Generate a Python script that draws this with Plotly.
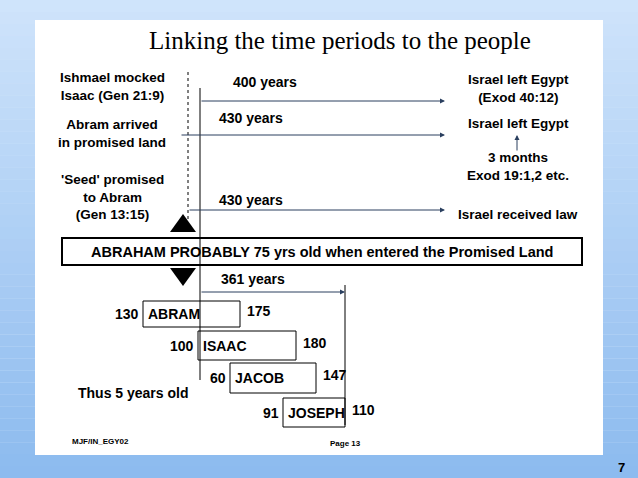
import plotly.graph_objects as go

# people on the timeline: name, age at which born (relative to father), age at death
people = ["ABRAM", "ISAAC", "JACOB", "JOSEPH"]
born_label = ["130", "100", "60", "91"]
death_label = ["175", "180", "147", "110"]

# schematic box placement on the slide (pixels)
box_x0 = [143, 198, 230, 283]
box_x1 = [240, 296, 316, 345]
box_y0 = [301, 331, 363, 398]
box_y1 = [327, 360, 393, 427]

left_notes = [("Ishmael mocked<br>Isaac (Gen 21:9)", 86), ("Abram arrived<br>in promised land", 133),
              ("'Seed' promised<br>to Abram<br>(Gen 13:15)", 197)]
right_notes = [("Israel left Egypt<br>(Exod 40:12)", 88), ("Israel left Egypt", 123),
               ("3 months<br>Exod 19:1,2 etc.", 166), ("Israel received law", 214)]
spans = ["400 years", "430 years", "430 years", "361 years"]


def mix(a, b, t):
    return "rgb(%d,%d,%d)" % tuple(int(a[k] + (b[k] - a[k]) * t) for k in range(3))


fig = go.Figure()
shapes = []
# slide background gradient
n = 40
for i in range(n):
    shapes.append(dict(type="rect", xref="paper", yref="paper", x0=0, x1=1, y0=1 - (i + 1) / n, y1=1 - i / n,
                       fillcolor=mix((207, 228, 251), (141, 187, 239), i / (n - 1)), line_width=0, layer="below"))
shapes.append(dict(type="rect", x0=35, x1=603, y0=20, y1=455, fillcolor="white", line_width=0, layer="below"))
ln = dict(color="black", width=1)
shapes += [dict(type="line", x0=188, x1=188, y0=72, y1=220, line=dict(color="black", width=1, dash="dot")),
           dict(type="line", x0=200, x1=200, y0=88, y1=380, line=ln),
           dict(type="line", x0=345, x1=345, y0=285, y1=425, line=ln),
           dict(type="rect", x0=62, x1=582, y0=238, y1=265, line=dict(color="black", width=2)),
           dict(type="path", path="M 170 232 L 196 232 L 183 214 Z", fillcolor="black", line_width=0),
           dict(type="path", path="M 170 268 L 196 268 L 183 286 Z", fillcolor="black", line_width=0)]
for i in range(len(people)):
    shapes.append(dict(type="rect", x0=box_x0[i], x1=box_x1[i], y0=box_y0[i], y1=box_y1[i], line=ln))

ann = [dict(x=340, y=40, text="Linking the time periods to the people", showarrow=False,
            font=dict(family="Liberation Serif", size=25, color="black")),
       dict(x=621, y=467, text="7", showarrow=False, font=dict(size=13, color="black")),
       dict(x=70, y=441, text="MJF/IN_EGY02", showarrow=False, xanchor="left", font=dict(size=8)),
       dict(x=345, y=443, text="Page 13", showarrow=False, font=dict(size=8)),
       dict(x=322, y=252, text="ABRAHAM PROBABLY 75 yrs old when entered the Promised Land",
            showarrow=False, font=dict(size=14.5)),
       dict(x=133, y=393, text="Thus 5 years old", showarrow=False, font=dict(size=14))]
for t, y in left_notes:
    ann.append(dict(x=112, y=y, text=t, showarrow=False, font=dict(size=13.5)))
for t, y in right_notes:
    ann.append(dict(x=518, y=y, text=t, showarrow=False, font=dict(size=13.5)))
for t, (x, y) in zip(spans, [(265, 82), (251, 118), (251, 200), (253, 279)]):
    ann.append(dict(x=x, y=y, text=t, showarrow=False, font=dict(size=14)))
# arrows
for x0, x1, y in [(200, 445, 101), (180, 445, 135), (188, 445, 210), (200, 345, 292)]:
    ann.append(dict(x=x1, y=y, ax=x0, ay=y, xref="x", yref="y", axref="x", ayref="y", text="",
                    showarrow=True, arrowhead=2, arrowsize=1, arrowwidth=1))
ann.append(dict(x=517, y=135, ax=517, ay=152, xref="x", yref="y", axref="x", ayref="y", text="",
                showarrow=True, arrowhead=2, arrowwidth=1))
for i, p in enumerate(people):
    yc = (box_y0[i] + box_y1[i]) / 2
    ann.append(dict(x=box_x0[i] + 3, y=yc, text=p, xanchor="left", showarrow=False, font=dict(size=14)))
    ann.append(dict(x=box_x0[i] - 2, y=yc, text=born_label[i], xanchor="right", showarrow=False, font=dict(size=14)))
    ann.append(dict(x=box_x1[i] + 5, y=yc - 3, text=death_label[i], xanchor="left", showarrow=False, font=dict(size=14)))

for a in ann:
    a.setdefault("font", {})
    a["font"].setdefault("family", "Liberation Sans")
    a["font"].setdefault("color", "black")
    a["font"]["weight"] = "bold" if a["font"]["family"] == "Liberation Sans" else "normal"

fig.update_layout(width=638, height=478, margin=dict(l=0, r=0, t=0, b=0, pad=0), shapes=shapes, annotations=ann,
                  xaxis=dict(range=[0, 638], autorange=False, visible=False, fixedrange=True),
                  yaxis=dict(range=[478, 0], autorange=False, visible=False, fixedrange=True),
                  plot_bgcolor="rgba(0,0,0,0)", paper_bgcolor="#cfe4fb", showlegend=False)
fig.write_html("out.html", config={"displayModeBar": False},
               post_script="document.body.style.margin='0';document.body.style.overflow='hidden';")
